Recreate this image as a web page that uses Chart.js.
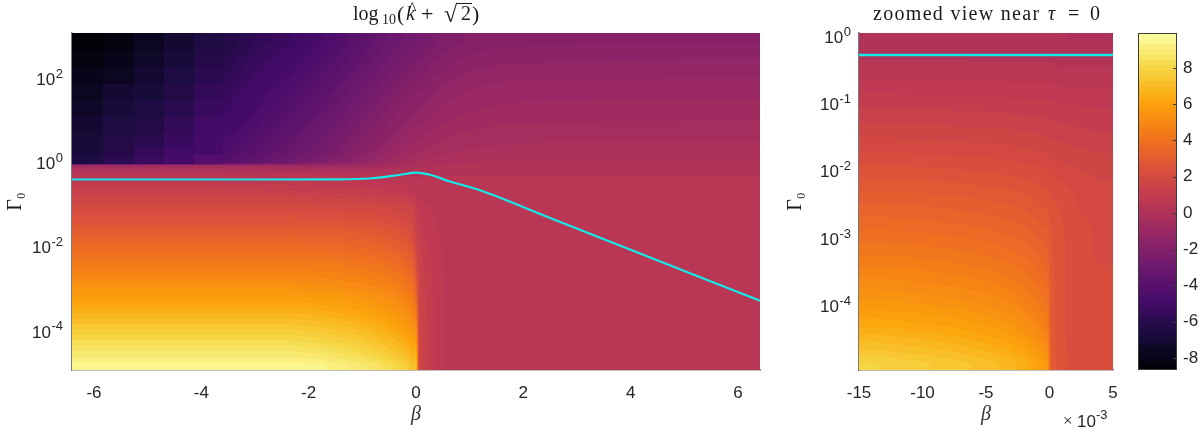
<!DOCTYPE html>
<html>
<head>
<meta charset="utf-8">
<script src="https://cdn.jsdelivr.net/npm/chart.js@4/dist/chart.umd.min.js"></script>
<style>
body { margin: 0; background: #fff; width: 1200px; height: 428px; overflow: hidden; position: relative; }
canvas { position: absolute; top: 0; }
</style>
</head>
<body>
<canvas id="mainChart" width="790" height="428" style="left:0"></canvas>
<canvas id="zoomChart" width="345" height="428" style="left:780px"></canvas>
<canvas id="barChart" width="75" height="428" style="left:1125px"></canvas>
<script>
// colour limits and inferno stops
const colorMin = -8.66;
const colorMax = 9.93;
const colorLevels = 64;
const inferno = ["#000004", "#160b39", "#420a68", "#6a176e", "#932667", "#bc3754", "#dd513a", "#f37819", "#fca50a", "#f6d746", "#fcffa4"];

// main panel: beta edges, log10(gamma) edges, one row per gamma band from the top
const mainBetaEdges = [-6.41, -5.83, -5.26, -4.7, -4.13, -3.6, -3.1, -2.6, -2.1, -1.6, -1.2, -0.8, -0.5, -0.25, -0.1, -0.04, -0.015, 0.015, 0.1, 0.25, 0.5, 0.8, 1.3, 2, 3.5, 6.41];
const mainLogEdges = [3, 2.6, 2.2, 1.8, 1.4, 1, 0.6, 0.3, 0.1, -0.06, -0.1, -0.2, -0.3, -0.45, -0.6, -0.8, -1, -1.2, -1.4, -1.6, -1.8, -2, -2.2, -2.4, -2.6, -2.8, -3, -3.2, -3.4, -3.6, -3.8, -4, -4.2, -4.4, -4.6, -4.8, -5];
const mainValues = [
  [-8.6,-8.1,-7.6,-7.1,-6.6,-6.1,-5.6,-5.2,-4.7,-4.2,-3.7,-3.3,-3,-2.8,-2.7,-2.65,-2.65,-2.6,-2.5,-2.3,-2.1,-1.9,-1.8,-1.75,-1.7],
  [-8.2,-7.8,-7.3,-6.8,-6.3,-5.8,-5.3,-4.9,-4.4,-3.9,-3.4,-3,-2.7,-2.5,-2.4,-2.35,-2.35,-2.3,-2.2,-2,-1.8,-1.6,-1.5,-1.45,-1.4],
  [-7.9,-7.5,-7,-6.5,-6,-5.5,-5,-4.6,-4.1,-3.6,-3.1,-2.7,-2.4,-2.2,-2.1,-2.05,-2.05,-2,-1.9,-1.7,-1.5,-1.3,-1.2,-1.2,-1.15],
  [-7.6,-7.2,-6.7,-6.2,-5.7,-5.2,-4.7,-4.3,-3.8,-3.3,-2.8,-2.4,-2.1,-1.9,-1.8,-1.75,-1.75,-1.7,-1.6,-1.4,-1.2,-1.05,-0.95,-0.95,-0.9],
  [-7.4,-6.9,-6.4,-5.9,-5.4,-5,-4.5,-4,-3.5,-3,-2.5,-2.1,-1.8,-1.6,-1.5,-1.45,-1.45,-1.4,-1.3,-1.15,-1,-0.85,-0.75,-0.7,-0.7],
  [-7.1,-6.6,-6.1,-5.6,-5.1,-4.7,-4.2,-3.7,-3.2,-2.7,-2.2,-1.8,-1.5,-1.3,-1.2,-1.15,-1.15,-1.1,-1,-0.85,-0.7,-0.6,-0.5,-0.5,-0.45],
  [-6.9,-6.3,-5.8,-5.3,-4.8,-4.4,-3.9,-3.4,-2.9,-2.4,-1.9,-1.5,-1.2,-1,-0.9,-0.85,-0.85,-0.8,-0.7,-0.6,-0.45,-0.35,-0.3,-0.25,-0.25],
  [-6.7,-6.1,-5.6,-5.1,-4.6,-4.2,-3.7,-3.2,-2.7,-2.2,-1.7,-1.25,-0.95,-0.75,-0.65,-0.6,-0.6,-0.55,-0.5,-0.4,-0.3,-0.2,-0.15,-0.1,-0.1],
  [-6.5,-5.9,-5.3,-4.8,-4.3,-3.9,-3.4,-2.9,-2.4,-1.9,-1.4,-1,-0.7,-0.5,-0.4,-0.35,-0.35,-0.3,-0.25,-0.15,-0.1,0,0.05,0.05,0.05],
  [-6.4,-5.8,-5.2,-4.7,-4.2,-3.8,-3.3,-2.7,-2.1,-1.6,-1.2,-0.85,-0.55,-0.4,-0.3,-0.25,-0.25,-0.2,-0.1,-0.05,0,0.05,0.1,0.1,0.1],
  [-0.5,-0.5,-0.5,-0.5,-0.5,-0.6,-0.6,-0.7,-0.8,-0.8,-0.7,-0.5,-0.3,-0.2,-0.15,-0.1,-0.1,-0.05,0,0.05,0.1,0.15,0.2,0.2,0.2],
  [0.1,0.1,0.1,0.1,0.05,0,0,-0.05,-0.1,-0.15,-0.1,0,0.1,0.15,0.2,0.2,0.2,0.2,0.2,0.25,0.3,0.3,0.3,0.3,0.3],
  [0.5,0.5,0.5,0.5,0.5,0.5,0.45,0.45,0.4,0.4,0.4,0.35,0.3,0.3,0.3,0.3,0.3,0.3,0.35,0.35,0.35,0.35,0.35,0.35,0.35],
  [0.85,0.85,0.85,0.85,0.85,0.8,0.8,0.8,0.75,0.7,0.65,0.6,0.55,0.5,0.45,0.45,0.4,0.4,0.4,0.4,0.4,0.4,0.4,0.4,0.4],
  [1.2,1.2,1.2,1.2,1.2,1.15,1.15,1.1,1.05,1,0.95,0.9,0.8,0.7,0.6,0.55,0.5,0.45,0.45,0.45,0.45,0.45,0.45,0.45,0.45],
  [1.5,1.5,1.5,1.5,1.5,1.5,1.5,1.5,1.45,1.4,1.35,1.3,1.2,1.1,0.95,0.8,0.7,0.6,0.5,0.45,0.45,0.45,0.45,0.45,0.45],
  [1.9,1.9,1.9,1.9,1.9,1.9,1.9,1.9,1.85,1.85,1.8,1.75,1.65,1.55,1.4,1.2,1,0.85,0.7,0.55,0.5,0.45,0.45,0.45,0.45],
  [2.25,2.25,2.25,2.25,2.25,2.25,2.25,2.25,2.2,2.2,2.15,2.05,1.95,1.8,1.6,1.35,1.1,0.95,0.8,0.6,0.5,0.45,0.45,0.45,0.45],
  [2.6,2.6,2.6,2.6,2.6,2.6,2.6,2.6,2.55,2.55,2.5,2.4,2.25,2.05,1.8,1.55,1.2,1.05,0.85,0.65,0.5,0.45,0.45,0.45,0.45],
  [3,3,3,3,3,3,3,3,2.95,2.95,2.85,2.75,2.6,2.35,2.05,1.75,1.35,1.15,0.9,0.65,0.5,0.45,0.45,0.45,0.45],
  [3.4,3.4,3.4,3.4,3.4,3.4,3.4,3.4,3.35,3.3,3.2,3.1,2.9,2.65,2.3,2,1.5,1.25,0.95,0.7,0.5,0.45,0.45,0.45,0.45],
  [3.75,3.75,3.75,3.75,3.75,3.75,3.75,3.75,3.7,3.65,3.55,3.4,3.2,2.95,2.6,2.25,1.7,1.35,1,0.7,0.5,0.45,0.45,0.45,0.45],
  [4.1,4.1,4.1,4.1,4.1,4.1,4.1,4.1,4.05,4,3.9,3.75,3.55,3.25,2.9,2.55,2,1.45,1.05,0.75,0.5,0.45,0.45,0.45,0.45],
  [4.5,4.5,4.5,4.5,4.5,4.5,4.5,4.5,4.45,4.4,4.25,4.1,3.85,3.55,3.2,2.85,2.3,1.5,1.1,0.75,0.5,0.45,0.45,0.45,0.45],
  [4.85,4.85,4.85,4.85,4.85,4.85,4.85,4.85,4.8,4.7,4.55,4.4,4.15,3.85,3.5,3.15,2.6,1.55,1.15,0.8,0.5,0.45,0.45,0.45,0.45],
  [5.2,5.2,5.2,5.2,5.2,5.2,5.2,5.2,5.15,5.05,4.9,4.7,4.45,4.15,3.8,3.45,3,1.6,1.2,0.8,0.5,0.45,0.45,0.45,0.45],
  [5.6,5.6,5.6,5.6,5.6,5.6,5.6,5.6,5.5,5.4,5.25,5.05,4.8,4.45,4.1,3.8,3.4,1.6,1.2,0.8,0.5,0.45,0.45,0.45,0.45],
  [6,6,6,6,6,6,6,6,5.9,5.8,5.6,5.4,5.1,4.75,4.4,4.1,3.8,1.6,1.25,0.85,0.5,0.45,0.45,0.45,0.45],
  [6.4,6.4,6.4,6.4,6.4,6.4,6.4,6.4,6.3,6.15,5.95,5.7,5.4,5.05,4.7,4.4,4.3,1.6,1.25,0.85,0.5,0.45,0.45,0.45,0.45],
  [6.85,6.85,6.85,6.85,6.85,6.85,6.85,6.85,6.7,6.55,6.3,6.05,5.7,5.35,5,4.75,4.8,1.65,1.25,0.85,0.5,0.45,0.45,0.45,0.45],
  [7.3,7.3,7.3,7.3,7.3,7.3,7.3,7.3,7.15,6.95,6.7,6.4,6.05,5.65,5.3,5.1,5.3,1.65,1.3,0.85,0.5,0.45,0.45,0.45,0.45],
  [7.75,7.75,7.75,7.75,7.75,7.75,7.75,7.75,7.6,7.35,7.1,6.75,6.4,6,5.65,5.45,5.8,1.65,1.3,0.85,0.5,0.45,0.45,0.45,0.45],
  [8.2,8.2,8.2,8.2,8.2,8.2,8.2,8.2,8.05,7.8,7.5,7.15,6.8,6.35,6,5.85,6.3,1.7,1.3,0.85,0.5,0.45,0.45,0.45,0.45],
  [8.65,8.65,8.65,8.65,8.65,8.65,8.65,8.65,8.5,8.25,7.95,7.55,7.15,6.75,6.4,6.25,6.8,1.7,1.3,0.85,0.5,0.45,0.45,0.45,0.45],
  [9.1,9.1,9.1,9.1,9.1,9.1,9.1,9.1,8.95,8.7,8.4,8,7.6,7.2,6.85,6.7,7.3,1.7,1.3,0.85,0.5,0.45,0.45,0.45,0.45],
  [9.6,9.6,9.6,9.6,9.6,9.6,9.6,9.6,9.45,9.2,8.9,8.5,8.1,7.7,7.3,7.15,7.8,1.7,1.3,0.85,0.5,0.45,0.45,0.45,0.45]
];
const mainLineBeta = [-6.41, -3, -1.5, -0.87, -0.31, 0, 0.31, 0.6, 1.18, 2.5, 6.41];
const mainLineGamma = [0.333, 0.333, 0.336, 0.352, 0.426, 0.483, 0.414, 0.307, 0.1875, 0.0405, 0.000442];
const mainXTicks = [-6, -4, -2, 0, 2, 4, 6];
const mainYTicks = [2, 0, -2, -4];

// zoomed panel, beta in units of 1e-3
const zoomBetaEdges = [-15, -12, -9, -6, -4, -2.5, -1.5, -0.8, -0.3, 0, 0.3, 1, 1.9, 3, 5];
const zoomLogEdges = [0, -0.2, -0.4, -0.6, -0.8, -1, -1.2, -1.4, -1.6, -1.8, -2, -2.2, -2.4, -2.6, -2.8, -3, -3.2, -3.4, -3.6, -3.8, -4, -4.2, -4.4, -4.6, -4.8, -5];
const zoomValues = [
  [0.1,0.1,0.1,0.1,0.1,0.1,0.1,0.1,0.1,0.1,0.1,0.05,0.05,0.05],
  [0.25,0.25,0.25,0.25,0.25,0.25,0.25,0.25,0.2,0.2,0.2,0.2,0.2,0.2],
  [0.45,0.45,0.45,0.4,0.4,0.4,0.4,0.4,0.4,0.4,0.35,0.35,0.35,0.35],
  [0.65,0.65,0.65,0.65,0.6,0.6,0.6,0.6,0.6,0.6,0.55,0.55,0.55,0.55],
  [0.95,0.9,0.9,0.9,0.85,0.85,0.85,0.85,0.8,0.8,0.8,0.75,0.75,0.7],
  [1.2,1.2,1.15,1.15,1.1,1.1,1.05,1.05,1.05,1,1,0.95,0.95,0.9],
  [1.45,1.45,1.4,1.35,1.35,1.3,1.3,1.25,1.25,1.2,1.2,1.15,1.1,1.05],
  [1.75,1.7,1.65,1.6,1.6,1.55,1.5,1.5,1.45,1.45,1.4,1.35,1.3,1.25],
  [2,1.95,1.9,1.9,1.85,1.8,1.75,1.7,1.7,1.65,1.6,1.55,1.5,1.45],
  [2.3,2.25,2.2,2.15,2.1,2.05,2,1.95,1.9,1.85,1.8,1.75,1.7,1.6],
  [2.6,2.55,2.5,2.45,2.35,2.3,2.25,2.2,2.15,2.05,2,1.95,1.85,1.75],
  [2.9,2.85,2.8,2.7,2.65,2.55,2.45,2.4,2.35,2.25,2.2,2.1,1.95,1.85],
  [3.2,3.15,3.1,3,2.9,2.8,2.7,2.6,2.55,2.45,2.35,2.2,2.05,1.95],
  [3.5,3.45,3.35,3.25,3.15,3.05,2.9,2.8,2.75,2.55,2.45,2.25,2.1,2],
  [3.8,3.75,3.65,3.55,3.4,3.3,3.15,3,2.95,2.65,2.5,2.3,2.15,2.05],
  [4.1,4.05,3.95,3.85,3.7,3.55,3.35,3.2,3.1,2.7,2.55,2.3,2.15,2.05],
  [4.4,4.35,4.25,4.1,3.95,3.8,3.6,3.4,3.3,2.7,2.55,2.3,2.15,2.05],
  [4.75,4.7,4.55,4.4,4.25,4.05,3.85,3.65,3.5,2.75,2.55,2.3,2.15,2.1],
  [5.1,5,4.9,4.75,4.55,4.3,4.1,3.9,3.75,2.75,2.6,2.3,2.15,2.1],
  [5.45,5.35,5.2,5.05,4.85,4.6,4.35,4.15,4,2.75,2.6,2.3,2.15,2.1],
  [5.85,5.75,5.6,5.4,5.2,4.95,4.65,4.4,4.25,2.75,2.6,2.3,2.15,2.1],
  [6.3,6.15,6,5.8,5.55,5.25,5,4.7,4.5,2.8,2.6,2.3,2.15,2.1],
  [6.8,6.65,6.45,6.2,5.95,5.65,5.35,5.05,4.8,2.8,2.6,2.3,2.15,2.1],
  [7.3,7.15,6.95,6.7,6.4,6.1,5.75,5.45,5.2,2.8,2.6,2.35,2.15,2.1],
  [7.9,7.7,7.45,7.2,6.9,6.6,6.2,5.9,5.6,2.8,2.6,2.35,2.15,2.1]
];
const zoomLineBeta = [-15, 5];
const zoomLineGamma = [0.472, 0.472];
const zoomXTicks = [-15, -10, -5, 0, 5];
const zoomYTicks = [0, -1, -2, -3, -4];

const barTicks = [-8, -6, -4, -2, 0, 2, 4, 6, 8];

const tickColor = "#262626";
const sansFont = "Liberation Sans";
const serifFont = "Liberation Serif";

function hexToRgb(h) {
  return [parseInt(h.slice(1, 3), 16), parseInt(h.slice(3, 5), 16), parseInt(h.slice(5, 7), 16)];
}

// banded colour lookup like a 64 entry colormap
function rgbFor(v) {
  let level = Math.floor((v - colorMin) / (colorMax - colorMin) * colorLevels);
  level = Math.max(0, Math.min(colorLevels - 1, level));
  let t = (level + 0.5) / colorLevels * (inferno.length - 1);
  let i = Math.min(inferno.length - 2, Math.floor(t));
  let a = hexToRgb(inferno[i]);
  let b = hexToRgb(inferno[i + 1]);
  let f = t - i;
  return [0, 1, 2].map(k => Math.round(a[k] + (b[k] - a[k]) * f));
}

function buildCells(betaEdges, logEdges, values) {
  let cells = [];
  for (let r = 0; r < values.length; r++) {
    for (let c = 0; c < values[r].length; c++) {
      cells.push({
        x: (betaEdges[c] + betaEdges[c + 1]) / 2,
        y: Math.pow(10, (logEdges[r] + logEdges[r + 1]) / 2),
        x0: betaEdges[c], x1: betaEdges[c + 1],
        y0: Math.pow(10, logEdges[r]), y1: Math.pow(10, logEdges[r + 1]),
        r: r, c: c, v: values[r][c]
      });
    }
  }
  return cells;
}

function zipLine(xs, ys) {
  return xs.map((x, i) => ({ x: x, y: ys[i] }));
}

// for every pixel position: the two cell centres around it and the mix between them
function pixelMix(centres, start, count) {
  let out = [];
  for (let p = 0; p < count; p++) {
    let at = start + p + 0.5;
    let i = 0;
    while (i < centres.length - 2 && at > centres[i + 1]) i++;
    let f = (at - centres[i]) / (centres[i + 1] - centres[i]);
    out.push({ i: i, f: Math.max(0, Math.min(1, f)) });
  }
  return out;
}

function nearestCell(edges, start, count) {
  let out = [];
  for (let p = 0; p < count; p++) {
    let at = start + p + 0.5;
    let i = 0;
    while (i < edges.length - 2 && at > edges[i + 1]) i++;
    out.push(i);
  }
  return out;
}

// paints dataset 0 through the chart scales, shaded between cell centres like pcolor with interp
// flatRows / flatCols keep the coarse blocks of the dark corner
const cellPainter = {
  id: "cellPainter",
  beforeDatasetsDraw(chart) {
    let ds = chart.data.datasets[0];
    let ctx = chart.ctx, xs = chart.scales.x, ys = chart.scales.y, area = chart.chartArea;
    let cells = ds.data;
    let nr = 0, nc = 0;
    cells.forEach(k => { nr = Math.max(nr, k.r + 1); nc = Math.max(nc, k.c + 1); });
    let grid = [];
    let xe = [], ye = [];
    cells.forEach(k => {
      grid[k.r] = grid[k.r] || [];
      grid[k.r][k.c] = k.v;
      xe[k.c] = xs.getPixelForValue(k.x0);
      xe[k.c + 1] = xs.getPixelForValue(k.x1);
      ye[k.r] = ys.getPixelForValue(k.y0);
      ye[k.r + 1] = ys.getPixelForValue(k.y1);
    });
    let cx = [], cy = [];
    for (let c = 0; c < nc; c++) cx.push((xe[c] + xe[c + 1]) / 2);
    for (let r = 0; r < nr; r++) cy.push((ye[r] + ye[r + 1]) / 2);
    let left = Math.round(area.left), top = Math.round(area.top);
    let w = Math.round(area.right) - left, h = Math.round(area.bottom) - top;
    let mx = pixelMix(cx, left, w), my = pixelMix(cy, top, h);
    let nx = nearestCell(xe, left, w), ny = nearestCell(ye, top, h);
    let img = ctx.createImageData(w, h);
    let flatR = ds.flatRows || 0, flatC = ds.flatCols || 0;
    for (let y = 0; y < h; y++) {
      for (let x = 0; x < w; x++) {
        let v;
        if (ny[y] < flatR && nx[x] < flatC) {
          v = grid[ny[y]][nx[x]];
        } else {
          let a = grid[my[y].i], b = grid[my[y].i + 1];
          let i = mx[x].i, f = mx[x].f, g = my[y].f;
          let upper = a[i] + (a[i + 1] - a[i]) * f;
          let lower = b[i] + (b[i + 1] - b[i]) * f;
          v = upper + (lower - upper) * g;
        }
        let rgb = rgbFor(v);
        let o = (y * w + x) * 4;
        img.data[o] = rgb[0];
        img.data[o + 1] = rgb[1];
        img.data[o + 2] = rgb[2];
        img.data[o + 3] = 255;
      }
    }
    ctx.putImageData(img, left, top);
  }
};

// colorbar keeps plain flat cells
const barPainter = {
  id: "barPainter",
  beforeDatasetsDraw(chart) {
    let ctx = chart.ctx, xs = chart.scales.x, ys = chart.scales.y;
    chart.data.datasets[0].data.forEach(c => {
      let l = Math.floor(xs.getPixelForValue(c.x0));
      let r = Math.ceil(xs.getPixelForValue(c.x1));
      let t = Math.floor(ys.getPixelForValue(c.y0));
      let b = Math.ceil(ys.getPixelForValue(c.y1));
      ctx.fillStyle = "rgb(" + rgbFor(c.v).join(",") + ")";
      ctx.fillRect(l, t, r - l, b - t);
    });
  }
};

// log tick labels, base and raised exponent
function powerLabels(chart, ticks, gap) {
  let ctx = chart.ctx, ys = chart.scales.y, left = chart.chartArea.left;
  ctx.save();
  ctx.fillStyle = tickColor;
  ctx.textBaseline = "middle";
  ctx.textAlign = "right";
  ticks.forEach(p => {
    let py = ys.getPixelForValue(Math.pow(10, p));
    ctx.font = "13px '" + sansFont + "'";
    ctx.fillText(String(p), left - gap, py - 1);
    let w = ctx.measureText(String(p)).width;
    ctx.font = "17px '" + sansFont + "'";
    ctx.fillText("10", left - gap - w - 0.5, py + 5);
  });
  ctx.restore();
}

const mainText = {
  id: "mainText",
  afterDraw(chart) {
    let ctx = chart.ctx;
    powerLabels(chart, mainYTicks, 9);
    ctx.save();
    ctx.fillStyle = "#1a1a1a";
    ctx.textBaseline = "alphabetic";
    ctx.textAlign = "left";
    let roman = "20px '" + serifFont + "'";
    let ital = "italic 20px '" + serifFont + "'";
    ctx.font = roman;
    ctx.fillText("log", 353, 20);
    ctx.font = "14px '" + serifFont + "'";
    ctx.fillText("10", 382, 24);
    ctx.font = "22px '" + serifFont + "'";
    ctx.fillText("(", 397, 21);
    ctx.font = ital;
    ctx.fillText("k", 406, 20);
    ctx.font = "18px '" + serifFont + "'";
    ctx.fillText("^", 408, 15);
    ctx.font = "22px '" + serifFont + "'";
    ctx.fillText("+", 421, 21);
    ctx.font = "24px '" + serifFont + "'";
    ctx.fillText("√", 444, 22);
    ctx.font = roman;
    ctx.fillText("2", 461, 20);
    ctx.font = "22px '" + serifFont + "'";
    ctx.fillText(")", 472, 21);
    ctx.strokeStyle = "#1a1a1a";
    ctx.lineWidth = 1;
    ctx.beginPath();
    ctx.moveTo(456, 3.5);
    ctx.lineTo(472, 3.5);
    ctx.stroke();
    ctx.restore();
  }
};

const zoomText = {
  id: "zoomText",
  afterDraw(chart) {
    let ctx = chart.ctx;
    powerLabels(chart, zoomYTicks, 8);
    ctx.save();
    ctx.fillStyle = "#1a1a1a";
    ctx.textBaseline = "alphabetic";
    ctx.textAlign = "left";
    ctx.font = "20px '" + serifFont + "'";
    ctx.letterSpacing = "1.3px";
    ctx.fillText("zoomed view near", 93, 20);
    ctx.letterSpacing = "0px";
    ctx.font = "italic 20px '" + serifFont + "'";
    ctx.fillText("τ", 268, 20);
    ctx.font = "20px '" + serifFont + "'";
    ctx.fillText("=", 288, 20);
    ctx.fillText("0", 310, 20);
    ctx.fillStyle = tickColor;
    ctx.font = "17px '" + serifFont + "'";
    ctx.fillText("×", 283, 426);
    ctx.font = "17px '" + sansFont + "'";
    ctx.fillText("10", 297, 427);
    ctx.font = "13px '" + sansFont + "'";
    ctx.fillText("-3", 316, 419);
    ctx.restore();
  }
};

const barFrame = {
  id: "barFrame",
  afterDraw(chart) {
    let ctx = chart.ctx, a = chart.chartArea, ys = chart.scales.y;
    ctx.save();
    ctx.strokeStyle = "#3a3a3a";
    ctx.lineWidth = 1;
    ctx.strokeRect(a.left + 0.5, a.top + 0.5, a.right - a.left - 1, a.bottom - a.top - 1);
    barTicks.forEach(t => {
      let py = Math.round(ys.getPixelForValue(t)) + 0.5;
      ctx.beginPath();
      ctx.moveTo(a.right - 4, py);
      ctx.lineTo(a.right, py);
      ctx.stroke();
    });
    ctx.restore();
  }
};

function setTicks(values) {
  return function (scale) {
    scale.ticks = values.map(v => ({ value: v }));
  };
}

function panelOptions(xMin, xMax, xTicks, yTicks, leftWidth, rightPad, yTitlePad) {
  return {
    responsive: false,
    animation: false,
    layout: { padding: { top: 33, right: rightPad, bottom: 0, left: 0 } },
    plugins: { legend: { display: false }, tooltip: { enabled: false } },
    scales: {
      x: {
        type: "linear", min: xMin, max: xMax,
        afterBuildTicks: setTicks(xTicks),
        afterFit: s => { s.height = 58; s.paddingLeft = 0; s.paddingRight = 0; },
        grid: { display: false, drawTicks: false },
        border: { display: true, color: "#7a7a7a", width: 1.5 },
        ticks: { color: tickColor, padding: 13, maxRotation: 0, autoSkip: false, font: { family: sansFont, size: 17 }, callback: v => String(v) },
        title: { display: true, text: "β", color: "#333", padding: { top: 0, bottom: 1 }, font: { family: serifFont, size: 20, style: "italic" } }
      },
      y: {
        type: "logarithmic", min: Math.pow(10, yTicks[0]), max: Math.pow(10, yTicks[1]),
        afterBuildTicks: setTicks([]),
        afterFit: s => { s.width = leftWidth; },
        grid: { display: false },
        border: { display: true, color: "#7a7a7a", width: 1.5 },
        ticks: { display: false },
        title: { display: true, text: "Γ₀", color: "#1a1a1a", padding: { top: yTitlePad, bottom: 0 }, font: { family: serifFont, size: 20 } }
      }
    }
  };
}

new Chart(document.getElementById("mainChart"), {
  type: "scatter",
  data: {
    datasets: [
      { data: buildCells(mainBetaEdges, mainLogEdges, mainValues), pointRadius: 0, flatRows: 10, flatCols: 5 },
      { type: "line", data: zipLine(mainLineBeta, mainLineGamma), borderColor: "#12eaec", borderWidth: 2.2, pointRadius: 0, cubicInterpolationMode: "monotone", fill: false }
    ]
  },
  options: panelOptions(-6.41, 6.41, mainXTicks, [-5, 3], 72, 30, 4),
  plugins: [cellPainter, mainText]
});

new Chart(document.getElementById("zoomChart"), {
  type: "scatter",
  data: {
    datasets: [
      { data: buildCells(zoomBetaEdges, zoomLogEdges, zoomValues), pointRadius: 0 },
      { type: "line", data: zipLine(zoomLineBeta, zoomLineGamma), borderColor: "#12eaec", borderWidth: 2.5, pointRadius: 0, tension: 0, fill: false }
    ]
  },
  options: panelOptions(-15, 5, zoomXTicks, [-5, 0], 79, 12, 4),
  plugins: [cellPainter, zoomText]
});

// colorbar, one cell per colormap level
let barCells = [];
for (let i = 0; i < colorLevels; i++) {
  let low = colorMin + (colorMax - colorMin) * i / colorLevels;
  let high = colorMin + (colorMax - colorMin) * (i + 1) / colorLevels;
  barCells.push({ x: 0.5, y: (low + high) / 2, x0: 0, x1: 1, y0: high, y1: low, v: (low + high) / 2 });
}

new Chart(document.getElementById("barChart"), {
  type: "scatter",
  data: { datasets: [{ data: barCells, pointRadius: 0 }] },
  options: {
    responsive: false,
    animation: false,
    layout: { padding: { top: 33, right: 0, bottom: 58, left: 13 } },
    plugins: { legend: { display: false }, tooltip: { enabled: false } },
    scales: {
      x: { type: "linear", min: 0, max: 1, display: false },
      y: {
        type: "linear", position: "right", min: colorMin, max: colorMax,
        afterBuildTicks: setTicks(barTicks),
        afterFit: s => { s.width = 23; },
        grid: { display: false, drawTicks: false },
        border: { display: false },
        ticks: { color: tickColor, padding: 6, autoSkip: false, font: { family: sansFont, size: 17 }, callback: v => String(v) }
      }
    }
  },
  plugins: [barPainter, barFrame]
});
</script>
</body>
</html>
